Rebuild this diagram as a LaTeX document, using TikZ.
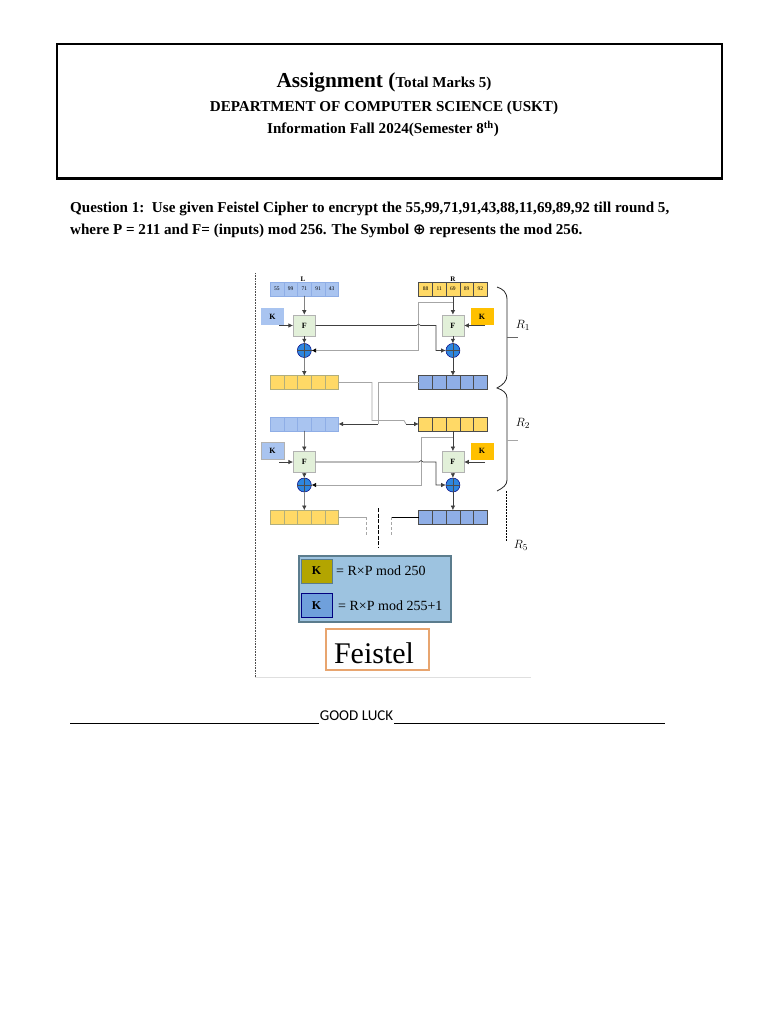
\documentclass[tikz,border=0pt]{standalone}
\usepackage{fontspec}
\setmainfont{Liberation Serif}
\newfontfamily\symfont{DejaVu Sans}
\newfontfamily\luckfont{Carlito}
\usetikzlibrary{arrows.meta}
\definecolor{celllight}{HTML}{A9C4F0}
\definecolor{cellblue}{HTML}{8FAEE6}
\definecolor{cellyellow}{HTML}{FFD966}
\definecolor{fgreen}{HTML}{E2F0D9}
\definecolor{korange}{HTML}{FFC000}
\definecolor{xorblue}{HTML}{2E86DE}
\definecolor{legendblue}{HTML}{9DC3E0}
\definecolor{legendline}{HTML}{5B7C8D}
\definecolor{kolive}{HTML}{B3A500}
\definecolor{kblue}{HTML}{6FA0DC}
\definecolor{boxorange}{HTML}{E8A56F}
\tikzset{
  >={Latex[length=4.5pt,width=4.5pt]},
  cellbox/.style={draw,minimum width=13.7pt,minimum height=13.7pt,inner sep=0pt,outer sep=0pt,font=\fontsize{5.5}{5.5}\selectfont},
  funcbox/.style={draw=gray!60,fill=fgreen,line width=.7pt,minimum width=22pt,minimum height=21pt,inner sep=0pt,font=\bfseries\fontsize{8}{8}\selectfont},
  keybox/.style={minimum width=23pt,minimum height=17pt,inner sep=0pt,font=\bfseries\fontsize{8}{8}\selectfont},
  xorsign/.style={circle,draw=blue!50!black,fill=xorblue,minimum size=14pt,inner sep=0pt,line width=.5pt},
  legendkey/.style={line width=1pt,minimum width=31pt,minimum height=24pt,inner sep=0pt,font=\bfseries\fontsize{12}{12}\selectfont},
  conn/.style={->,draw=black!75,line width=.6pt},
  link/.style={draw=gray!70,line width=.8pt},
  sheettext/.style={anchor=base west,inner sep=0pt,font=\bfseries\fontsize{15.1}{15.1}\selectfont},
  headtext/.style={anchor=base,inner sep=0pt,font=\bfseries\fontsize{15.1}{15.1}\selectfont}
}
\begin{document}
\begin{tikzpicture}[x=1pt,y=-1pt]
    \useasboundingbox[fill=white] (0,0) rectangle (768,1024);

    % Header
    \node[draw,line width=1.7pt,minimum width=665pt,minimum height=134pt,inner sep=0pt] (header) at (389.5,111) {};
    \draw[line width=2.4pt] (header.south west) -- (header.south east);
    \node[headtext] (title) at (384,87.5) {\fontsize{21.3}{21.3}\selectfont Assignment (\fontsize{15.1}{15.1}\selectfont Total Marks 5)};
    \node[headtext] (dept) at (384,112) {DEPARTMENT OF COMPUTER SCIENCE (USKT)};
    \node[headtext] (info) at (383,134) {Information Fall 2024(Semester 8\textsuperscript{th})};

    % Question
    \node[sheettext] (qone) at (70,212.5) {Question 1:\ \ Use given Feistel Cipher to encrypt the 55,99,71,91,43,88,11,69,89,92 till round 5,};
    \node[sheettext] (qtwo) at (70,234.5) {where P = 211 and F= (inputs) mod 256. The Symbol {\symfont\fontsize{15}{15}\selectfont ⊕} represents the mod 256.};

    % Frame of the figure
    \draw[densely dotted,black!70,line width=.6pt] (255,273) -- (255,677);
    \draw[gray!25,line width=.8pt] (255,677) -- (531,677);

    % Rows
    \foreach \i/\t in {1/55,2/99,3/71,4/91,5/43}
        \node[cellbox,fill=celllight,draw=cellblue] (toplc\i) at ({263.2+\i*13.7},289) {\t};
    \foreach \i/\t in {1/88,2/11,3/69,4/89,5/92}
        \node[cellbox,fill=cellyellow,draw=black!70] (toprc\i) at ({411.8+\i*13.7},289) {\t};
    \foreach \i in {1,...,5} {
        \node[cellbox,fill=cellyellow,draw=gray!70!yellow] (midlc\i) at ({263.2+\i*13.7},382.5) {};
        \node[cellbox,fill=cellblue,draw=black!70] (midrc\i) at ({411.8+\i*13.7},382.5) {};
        \node[cellbox,fill=celllight,draw=cellblue] (seclc\i) at ({263.2+\i*13.7},424) {};
        \node[cellbox,fill=cellyellow,draw=black!70] (secrc\i) at ({411.8+\i*13.7},424) {};
        \node[cellbox,fill=cellyellow,draw=gray!70!yellow] (endlc\i) at ({263.2+\i*13.7},517) {};
        \node[cellbox,fill=cellblue,draw=black!70] (endrc\i) at ({411.8+\i*13.7},517) {};
    }
    \node[font=\bfseries\fontsize{7}{7}\selectfont,inner sep=0pt] (lefttag) at (303,279) {L};
    \node[font=\bfseries\fontsize{7}{7}\selectfont,inner sep=0pt] (righttag) at (453,279) {R};

    % Round 1
    \node[funcbox] (fa) at (304.3,325.5) {F};
    \node[funcbox] (fb) at (452.9,325.5) {F};
    \node[keybox,fill=celllight] (ka) at (272.5,316.5) {K};
    \node[keybox,fill=korange] (kb) at (482,316.5) {K};
    \node[xorsign] (xa) at (304.3,350.5) {};
    \node[xorsign] (xb) at (452.9,350.5) {};
    \draw[black!70,line width=.5pt] (xa.north) -- (xa.south) (xa.west) -- (xa.east) (xb.north) -- (xb.south) (xb.west) -- (xb.east);

    \coordinate (taila) at (279,325.5);
    \coordinate (tailb) at (485,325.5);
    \draw[conn] (toplc3.south) -- (fa.north);
    \draw[conn] (toprc3.south) -- (fb.north);
    \draw[conn] (taila) -- (fa.west);
    \draw[conn] (tailb) -- (fb.east);
    \draw[conn] (fa.south) -- (xa.north);
    \draw[conn] (fb.south) -- (xb.north);
    \draw[conn] (xa.south) -- (midlc3.north);
    \draw[conn] (xb.south) -- (midrc3.north);
    \coordinate (busa) at (452.9,302);
    \coordinate (busb) at (418.5,302);
    \coordinate (busc) at (418.5,350.5);
    \coordinate (hopa) at (436,325.5);
    \coordinate (hopb) at (436,350.5);
    \coordinate (bumpa) at (416.5,325.5);
    \coordinate (bumpb) at (418.5,324);
    \coordinate (bumpc) at (420.5,325.5);
    \draw[link,arrows={-Latex[length=4.5pt,width=4.5pt,black]}] (busa) -- (busb) -- (busc) -- (xa.east);
    \draw[conn] (fa.east) -- (bumpa) -- (bumpb) -- (bumpc) -- (hopa) -- (hopb) -- (xb.west);

    % Crossing
    \coordinate (crossa) at (372,382.5);
    \coordinate (crossb) at (378,382.5);
    \coordinate (crossc) at (372,420.5);
    \coordinate (crossd) at (378,424);
    \coordinate (crosse) at (404,420.5);
    \coordinate (crossf) at (406,424);
    \draw[link] (midlc5.east) -- (crossa) -- (crossc) -- (crosse) -- (crossf);
    \draw[conn] (crossf) -- (secrc1.west);
    \draw[link] (midrc1.west) -- (crossb) -- (crossd);
    \draw[conn] (crossd) -- (seclc5.east);

    % Round 2
    \node[funcbox] (fc) at (304.3,462) {F};
    \node[funcbox] (fd) at (452.9,462) {F};
    \node[keybox,fill=celllight,draw=gray!60] (kc) at (272.5,451) {K};
    \node[keybox,fill=korange] (kd) at (482,451) {K};
    \node[xorsign] (xc) at (304.3,485) {};
    \node[xorsign] (xd) at (452.9,485) {};
    \draw[black!70,line width=.5pt] (xc.north) -- (xc.south) (xc.west) -- (xc.east) (xd.north) -- (xd.south) (xd.west) -- (xd.east);

    \coordinate (tailc) at (279,462);
    \coordinate (taild) at (485,462);
    \draw[conn] (seclc3.south) -- (fc.north);
    \draw[conn] (secrc3.south) -- (fd.north);
    \draw[conn] (tailc) -- (fc.west);
    \draw[conn] (taild) -- (fd.east);
    \draw[conn] (fc.south) -- (xc.north);
    \draw[conn] (fd.south) -- (xd.north);
    \draw[conn] (xc.south) -- (endlc3.north);
    \draw[conn] (xd.south) -- (endrc3.north);
    \coordinate (busd) at (452.9,437);
    \coordinate (buse) at (421,437);
    \coordinate (busf) at (421,485);
    \coordinate (hopc) at (436,462);
    \coordinate (hopd) at (436,485);
    \coordinate (bumpd) at (419,462);
    \coordinate (bumpe) at (421,460.5);
    \coordinate (bumpf) at (423,462);
    \draw[link,arrows={-Latex[length=4.5pt,width=4.5pt,black]}] (busd) -- (buse) -- (busf) -- (xc.east);
    \draw[conn] (fc.east) -- (bumpd) -- (bumpe) -- (bumpf) -- (hopc) -- (hopd) -- (xd.west);

    % Cut after round 2
    \coordinate (cuta) at (366,517);
    \coordinate (cutb) at (366,535);
    \coordinate (cutc) at (391,517);
    \coordinate (cutd) at (391,535);
    \draw[link] (endlc5.east) -- (cuta);
    \draw[gray!70,densely dashed,line width=.7pt] (cuta) -- (cutb);
    \draw[black,line width=.9pt] (endrc1.west) -- (cutc);
    \draw[gray!70,densely dashed,line width=.7pt] (cutc) -- (cutd);
    \draw[black,line width=1.8pt,dash pattern=on 4pt off 1.5pt] (378.5,508) -- (378.5,548);

    % Round braces
    \draw[black!85,line width=.8pt] (497,287) .. controls (503,289) and (507,292) .. (507,300) -- (507,375)
        .. controls (507,381) and (503,385) .. (497,388) .. controls (503,390) and (507,393) .. (507,398)
        -- (507,480) .. controls (507,485) and (503,488) .. (497,491);
    \draw[gray!80!black,line width=.8pt] (507,337) -- (518,337);
    \draw[gray!70,line width=.8pt] (507,440) -- (518,440);
    \draw[black,line width=1.5pt,dash pattern=on 1.5pt off 1.5pt] (506.5,491) -- (506.5,541);
    \node[inner sep=0pt,font=\fontsize{13}{13}\selectfont] (ra) at (523,325.5) {$R_1$};
    \node[inner sep=0pt,font=\fontsize{13}{13}\selectfont] (rb) at (523,423.5) {$R_2$};
    \node[inner sep=0pt,font=\fontsize{13}{13}\selectfont] (rc) at (521,545) {$R_5$};

    % Legend
    \node[draw=legendline,fill=legendblue,line width=1.5pt,minimum width=152pt,minimum height=66pt,inner sep=0pt] (legend) at (375,589) {};
    \node[legendkey,draw=legendline,fill=kolive] (keya) at (316.5,571) {K};
    \node[legendkey,draw=blue!50!black,fill=kblue] (keyb) at (316.5,605.5) {K};
    \node[anchor=west,inner sep=0pt,font=\fontsize{14}{14}\selectfont] (ruleone) at (336,571) {= R×P mod 250};
    \node[anchor=west,inner sep=0pt,font=\fontsize{14}{14}\selectfont] (ruletwo) at (338,605.5) {= R×P mod 255+1};

    % Name box
    \node[draw=boxorange,line width=1.1pt,minimum width=103pt,minimum height=41pt,inner sep=0pt] (namebox) at (377.5,649.5) {};
    \node[anchor=base,inner sep=0pt,font=\fontsize{30}{30}\selectfont] (name) at (374,663) {Feistel};

    % Closing line
    \node[inner sep=0pt,font=\luckfont\fontsize{15}{15}\selectfont] (luck) at (356.5,716) {GOOD LUCK};
    \coordinate (rulea) at (70,723.5);
    \coordinate (ruleb) at (319,723.5);
    \coordinate (rulec) at (394,723.5);
    \coordinate (ruled) at (665,723.5);
    \draw[line width=.7pt] (rulea) -- (ruleb) (rulec) -- (ruled);

\end{tikzpicture}
\end{document}
